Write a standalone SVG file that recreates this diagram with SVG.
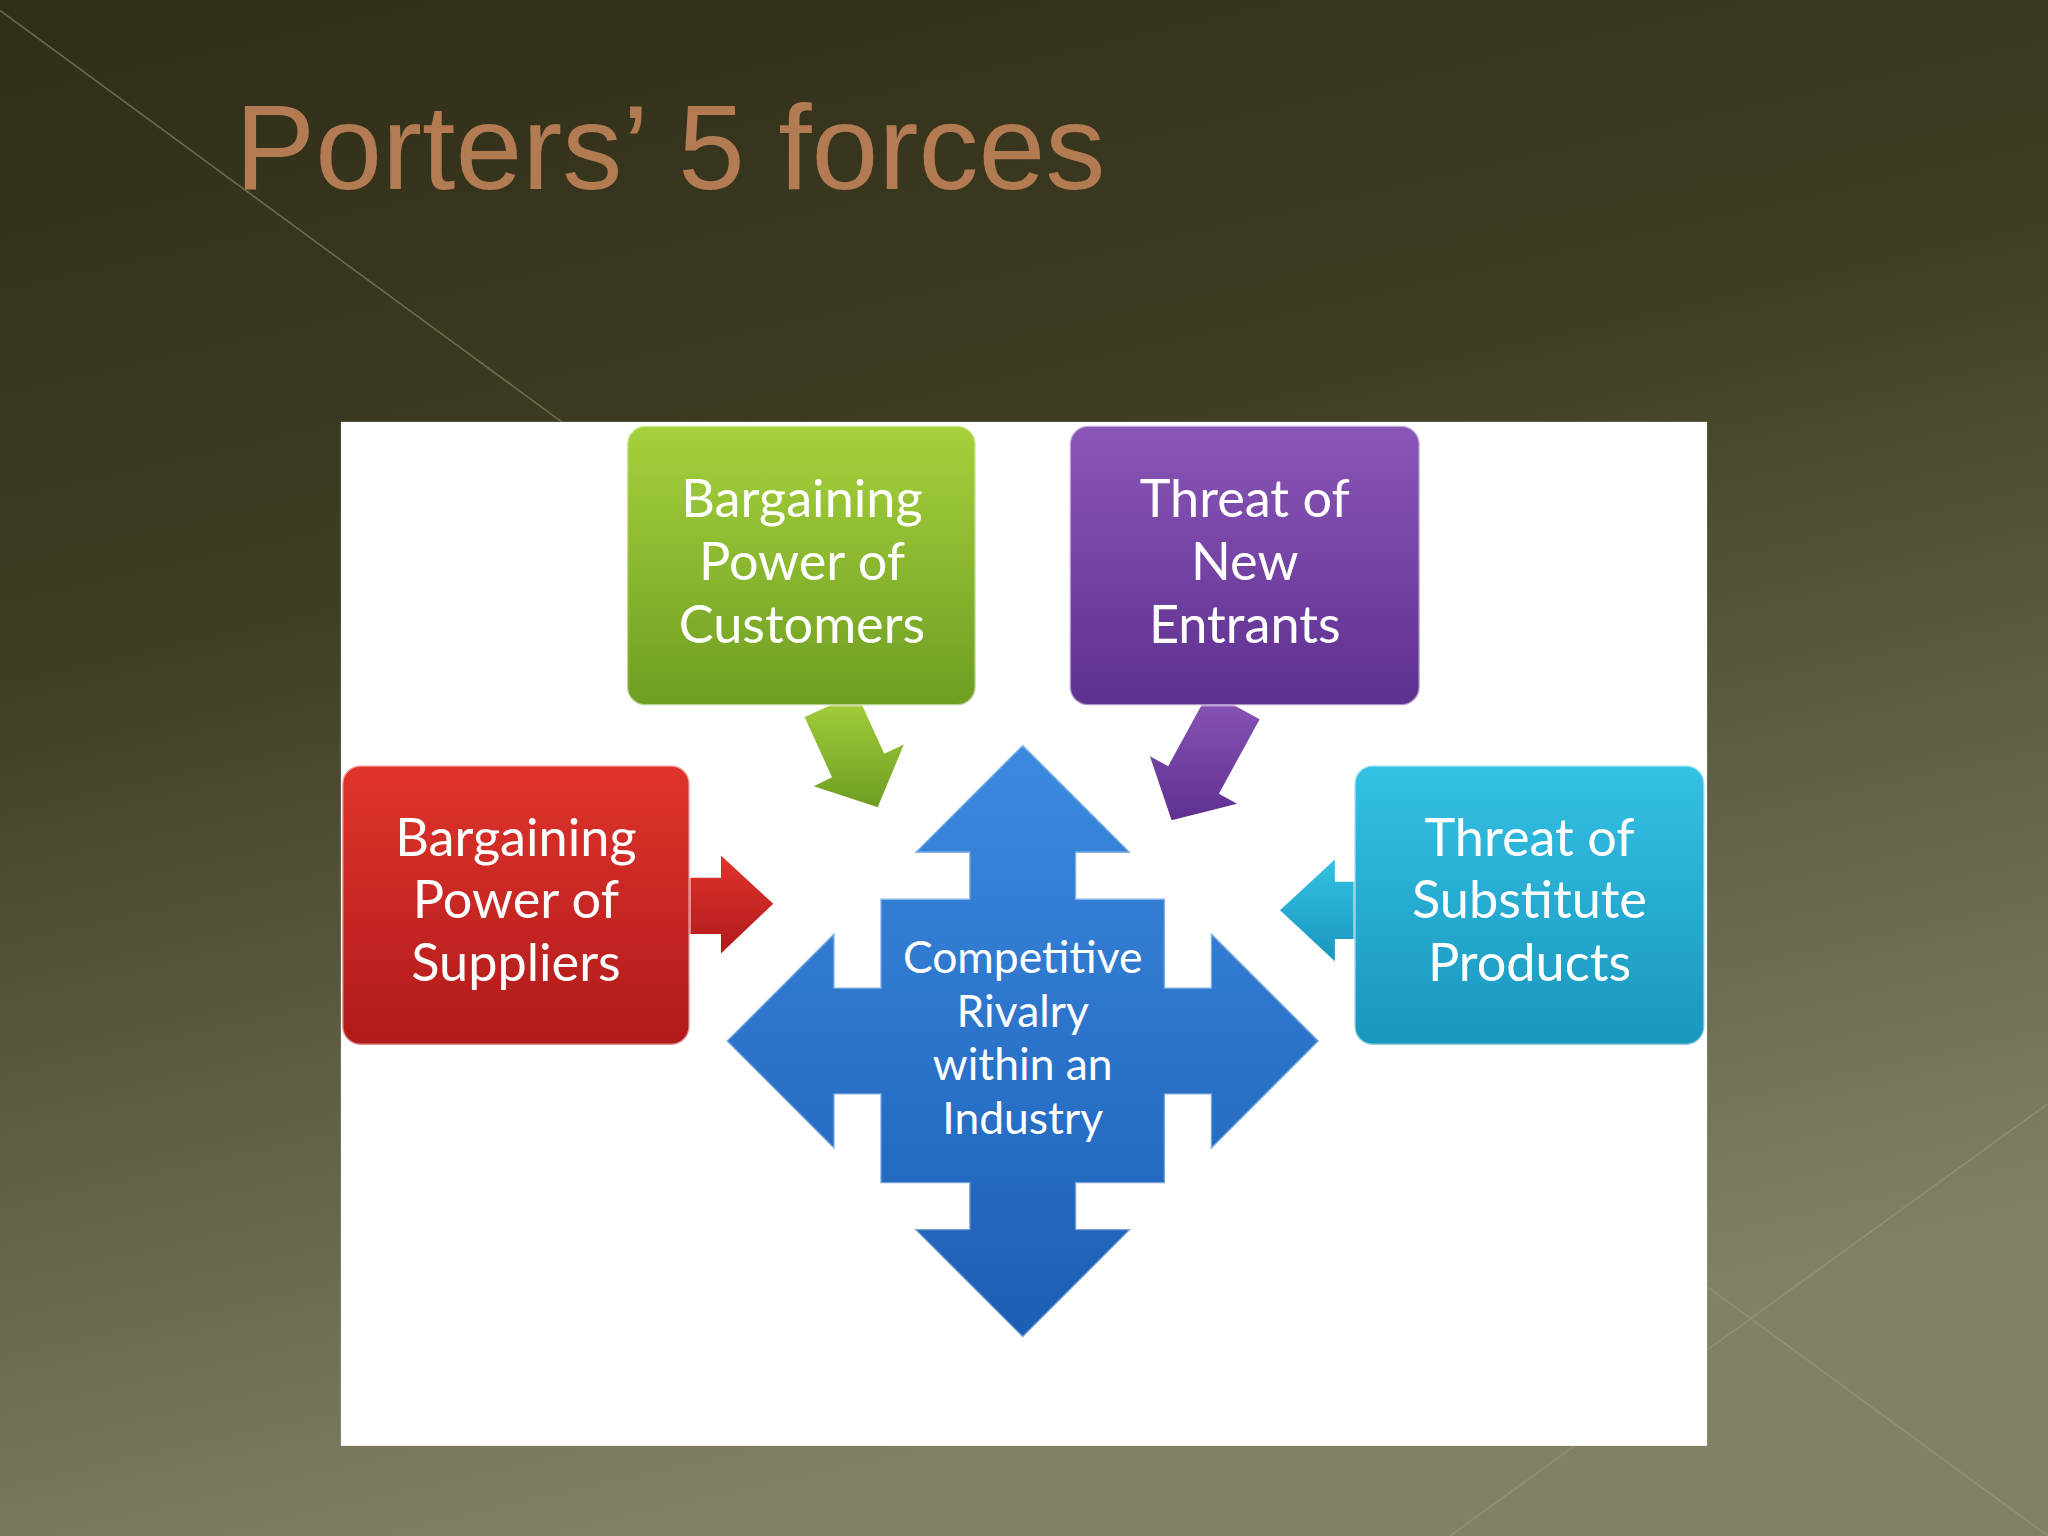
<svg xmlns="http://www.w3.org/2000/svg" width="2048" height="1536" viewBox="0 0 2048 1536">
<defs>
<linearGradient id="bg" x1="0" y1="0" x2="0.3" y2="1"><stop offset="0" stop-color="#302d19"/><stop offset="0.4" stop-color="#3f3d22"/><stop offset="1" stop-color="#828166"/></linearGradient>
<linearGradient id="g" x1="0" y1="0" x2="0" y2="1"><stop offset="0" stop-color="#a6d13c"/><stop offset="1" stop-color="#6e9e22"/></linearGradient>
<linearGradient id="p" x1="0" y1="0" x2="0" y2="1"><stop offset="0" stop-color="#8a56b8"/><stop offset="1" stop-color="#5e3090"/></linearGradient>
<linearGradient id="r" x1="0" y1="0" x2="0" y2="1"><stop offset="0" stop-color="#e0342c"/><stop offset="1" stop-color="#b01a1a"/></linearGradient>
<linearGradient id="c" x1="0" y1="0" x2="0" y2="1"><stop offset="0" stop-color="#33c1e4"/><stop offset="1" stop-color="#1a96bd"/></linearGradient>
<linearGradient id="b" x1="0" y1="0" x2="0" y2="1"><stop offset="0" stop-color="#3c8ae0"/><stop offset="1" stop-color="#1b5eb4"/></linearGradient>
<style>
.t{font-family:Lato,"Liberation Sans",sans-serif;font-size:40px;fill:#fff;text-anchor:middle}
.ct{font-family:Lato,"Liberation Sans",sans-serif;font-size:34px;fill:#fff;text-anchor:middle}
.box{stroke:#fff;stroke-opacity:0.5;stroke-width:2}
</style>
</defs>
<rect width="2048" height="1536" fill="url(#bg)"/>
<g transform="scale(1.30612)">
<g stroke="#a0a080" stroke-opacity="0.5" stroke-width="1.2" fill="none">
<line x1="0" y1="8" x2="430" y2="323"/>
<line x1="1110" y1="1176" x2="1568" y2="845"/>
<line x1="1307" y1="985" x2="1568" y2="1176"/>
</g>
<text x="180" y="145" font-family="'Liberation Sans',sans-serif" font-size="92" fill="#b27b52">Porters’ 5  forces</text>
<rect x="261" y="323" width="1046" height="784" fill="#fff"/>
<g id="connectors">
<polygon points="616,549 656,531 677,577 692,570 672,618 623,602 637,595" fill="url(#g)"/>
<polygon points="925.6,529.4 964.4,550.6 933.2,607.8 947.2,615.4 897,628 880.4,579 894.4,586.6" fill="url(#p)"/>
<polygon points="520,672 552,672 552,655 592,692 552,730 552,715 520,715" fill="url(#r)"/>
<polygon points="1045,675 1022,675 1022,658 980,697 1022,736 1022,719 1045,719" fill="url(#c)"/>
</g>
<g id="rivalry" transform="translate(783,797)">
<polygon points="0,-227 83,-144 41,-144 41,-109 109,-109 109,-41 144,-41 144,-83 227,0 144,83 144,41 109,41 109,109 41,109 41,144 83,144 0,227 -83,144 -41,144 -41,109 -109,109 -109,41 -144,41 -144,83 -227,0 -144,-83 -144,-41 -109,-41 -109,-109 -41,-109 -41,-144 -83,-144" fill="url(#b)" stroke="#fff" stroke-opacity="0.4" stroke-width="2"/>
<text class="ct" y="-52">Competitive</text>
<text class="ct" y="-11">Rivalry</text>
<text class="ct" y="30">within an</text>
<text class="ct" y="71">Industry</text>
</g>
<g id="customers"><rect class="box" x="480" y="326" width="267" height="214" rx="14" fill="url(#g)"/>
<text class="t" x="614" y="396">Bargaining</text><text class="t" x="614" y="444">Power of</text><text class="t" x="614" y="492">Customers</text></g>
<g id="entrants"><rect class="box" x="819" y="326" width="268" height="214" rx="14" fill="url(#p)"/>
<text class="t" x="953" y="396">Threat of</text><text class="t" x="953" y="444">New</text><text class="t" x="953" y="492">Entrants</text></g>
<g id="suppliers"><rect class="box" x="262" y="586" width="266" height="214" rx="14" fill="url(#r)"/>
<text class="t" x="395" y="655">Bargaining</text><text class="t" x="395" y="703">Power of</text><text class="t" x="395" y="751">Suppliers</text></g>
<g id="substitutes"><rect class="box" x="1037" y="586" width="268" height="214" rx="14" fill="url(#c)"/>
<text class="t" x="1171" y="655">Threat of</text><text class="t" x="1171" y="703">Substitute</text><text class="t" x="1171" y="751">Products</text></g>
</g>
</svg>
